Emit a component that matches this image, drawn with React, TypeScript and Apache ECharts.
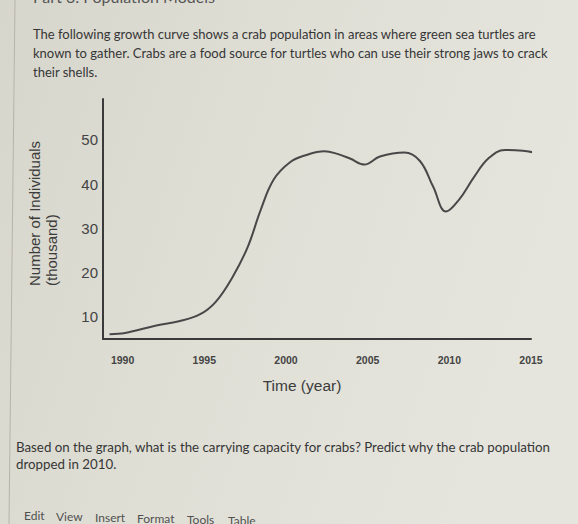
import React, { useEffect, useRef } from "react";
import * as echarts from "echarts";

const years = [
  1989.2, 1990.15, 1992.0, 1993.45, 1994.75, 1995.7, 1996.7, 1997.65, 1998.45, 1999.25,
  2000.25, 2001.2, 2002.35, 2003.15, 2003.95, 2004.8, 2005.75, 2007.25, 2008.2, 2009.0,
  2009.8, 2010.6, 2011.5, 2012.4, 2013.4, 2014.5, 2015.5,
];
const individuals = [
  6.1, 6.35, 8.0, 9.0, 10.6, 13.4, 18.8, 25.7, 34.1, 41.0,
  44.9, 46.5, 47.4, 46.8, 45.7, 44.4, 46.2, 47.1, 45.2, 39.5,
  33.8, 36.5, 41.5, 45.8, 47.7, 47.5, 46.9,
];
const xTickYears = [1990, 1995, 2000, 2005, 2010, 2015];
const yTickValues = [10, 20, 30, 40, 50];

const heading = "Part 3: Population Models";
const introLines = [
  "The following growth curve shows a crab population in areas where green sea turtles are",
  "known to gather. Crabs are a food source for turtles who can use their strong jaws to crack",
  "their shells.",
];
const questionLines = [
  "Based on the graph, what is the carrying capacity for crabs? Predict why the crab population",
  "dropped in 2010.",
];
const menuItems = ["Edit", "View", "Insert", "Format", "Tools", "Table"];
const menuX = [24, 56, 95, 137, 187, 228];

export default function App() {
  const ref = useRef<HTMLDivElement>(null);
  useEffect(() => {
    if (!ref.current) return;
    const chart = echarts.init(ref.current, undefined, { renderer: "svg" });
    const textFont = "Lato, 'Open Sans', sans-serif";
    const chartFont = "'Liberation Sans', Arial, sans-serif";
    const introY = [34, 53, 71.5];
    const questionY = [447, 464];
    const graphic: any[] = [
      {
        type: "line",
        shape: { x1: 15, y1: 0, x2: 9, y2: 524 },
        style: { stroke: "#b5b4aa", lineWidth: 1 },
        silent: true,
      },
      {
        type: "text",
        x: 33,
        y: -4,
        style: { text: heading, font: `16px ${textFont}`, fill: "#555", textVerticalAlign: "middle" },
      },
      ...introLines.map((t, i) => ({
        type: "text",
        x: 33,
        y: introY[i],
        style: { text: t, font: `13px ${textFont}`, fill: "#363636", textVerticalAlign: "middle" },
      })),
      ...questionLines.map((t, i) => ({
        type: "text",
        x: 16,
        y: questionY[i],
        style: { text: t, font: `13.3px ${textFont}`, fill: "#363636", textVerticalAlign: "middle" },
      })),
      ...menuItems.map((t, i) => ({
        type: "text",
        x: menuX[i],
        y: 515 + i * 1.0,
        style: { text: t, font: `12px ${textFont}`, fill: "#505050", textVerticalAlign: "middle" },
      })),
      {
        type: "text",
        x: 43,
        y: 286,
        rotation: Math.PI / 2,
        style: {
          text: "Number of Individuals\n(thousand)",
          font: `15px ${chartFont}`,
          fill: "#3c3c3c",
          textAlign: "left",
          textVerticalAlign: "middle",
          lineHeight: 17,
        },
      },
      {
        type: "text",
        x: 302,
        y: 385,
        style: {
          text: "Time (year)",
          font: `15.5px ${chartFont}`,
          fill: "#3c3c3c",
          textAlign: "center",
          textVerticalAlign: "middle",
        },
      },
    ];
    chart.setOption({
      animation: false,
      backgroundColor: {
        type: "linear",
        x: 0,
        y: 0,
        x2: 1,
        y2: 0.3,
        colorStops: [
          { offset: 0, color: "#d7d6cc" },
          { offset: 0.5, color: "#e0dfd6" },
          { offset: 1, color: "#e5e5dd" },
        ],
      },
      grid: { left: 103, right: 47, top: 99, bottom: 185 },
      xAxis: {
        type: "value",
        min: 1988.8,
        max: 2015,
        axisLine: { show: true, lineStyle: { color: "#3a3a3a", width: 2 } },
        axisTick: { show: false },
        splitLine: { show: false },
        axisLabel: {
          customValues: xTickYears,
          formatter: (v: number) => String(Math.round(v)),
          color: "#444",
          fontSize: 10.5,
          fontWeight: "bold",
          fontFamily: chartFont,
          margin: 15,
        },
      },
      yAxis: {
        type: "value",
        min: 5,
        max: 59.2,
        interval: 5,
        axisLine: { show: true, lineStyle: { color: "#3a3a3a", width: 2 } },
        axisTick: { show: false },
        splitLine: { show: false },
        axisLabel: {
          formatter: (v: number) => (yTickValues.indexOf(Math.round(v)) >= 0 && Math.abs(v - Math.round(v)) < 1e-6 ? String(Math.round(v)) : ""),
          color: "#444",
          fontSize: 15,
          fontFamily: chartFont,
          margin: 5,
        },
      },
      series: [
        {
          type: "line",
          data: years.map((y, i) => [y, individuals[i]]),
          smooth: 0.4,
          showSymbol: false,
          clip: false,
          lineStyle: { color: "#484848", width: 2 },
        },
      ],
      graphic,
    });
    return () => chart.dispose();
  }, []);
  return (
    <div
      ref={ref}
      style={{ position: "absolute", left: 0, top: 0, width: 578, height: 524 }}
    />
  );
}
